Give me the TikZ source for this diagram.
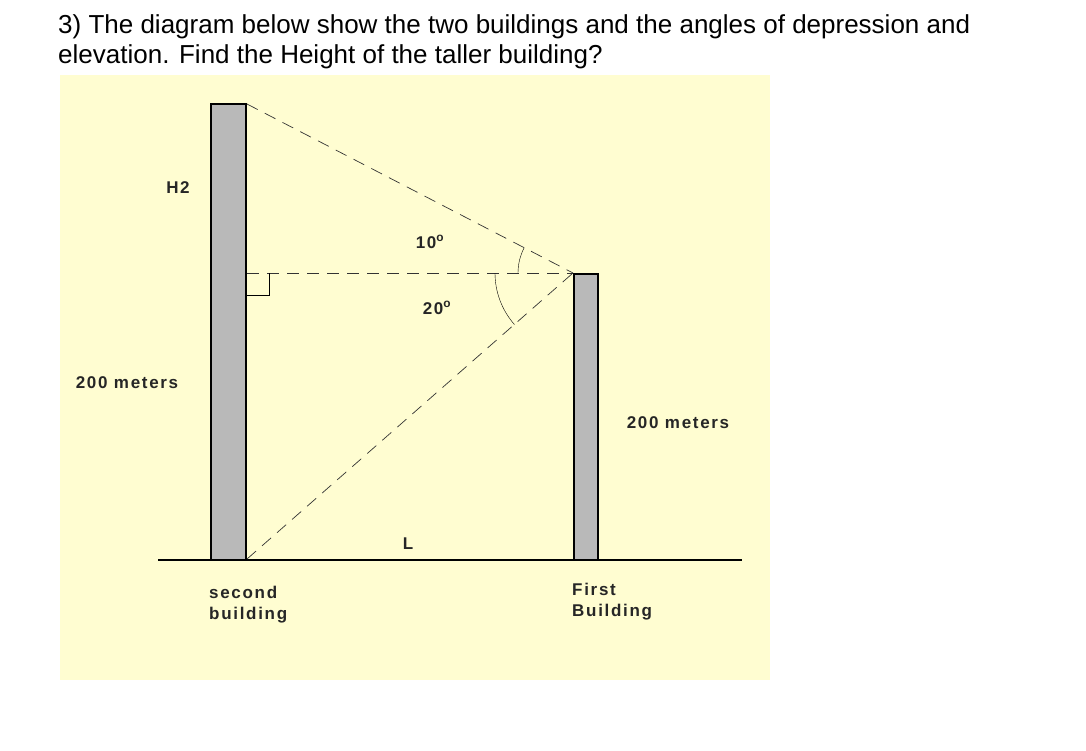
\documentclass[tikz,border=0pt]{standalone}
\usepackage{fontspec}
\setmainfont{Liberation Sans}
\begin{document}
\begin{tikzpicture}[x=1pt,y=-1pt,
  bld/.style={draw=black,line width=2pt,fill=gray!55},
  dsh/.style={draw=black!80,dash pattern=on 12pt off 8pt,line width=0.7pt},
  lbl/.style={font=\fontsize{17}{21}\selectfont\bfseries\addfontfeature{LetterSpace=10},text=black!85,align=left,inner sep=0pt}]
\useasboundingbox (0,0) rectangle (1086,750);
\fill[white] (0,0) rectangle (1086,750);
\fill[yellow!18] (60,75) rectangle (770,680);
\node[anchor=north west,align=left,inner sep=0pt,font=\fontsize{26}{30}\selectfont] (title) at (58,14)
 {3) The diagram below show the two buildings and the angles of depression and\\elevation. Find the Height of the taller building?};
\draw[bld] (211,104) rectangle (246,560);
\draw[bld] (574,274) rectangle (598,560);
\coordinate (A) at (247,104);
\coordinate (B) at (573,273);
\coordinate (C) at (247,273);
\coordinate (D) at (247,559);
\draw[line width=1.5pt] (158,560) -- (742,560);
\draw[dsh] (A) -- (B);
\draw[dsh] (C) -- (B);
\draw[dsh] (D) -- (B);
\draw[thin] (247,295) -- (269,295) -- (269,273);
\draw[thin] ([shift={(180:55)}]B) arc (180:207.5:55);
\draw[thin] ([shift={(180:78)}]B) arc (180:138.6:78);
\node[lbl] (h2) at (178,188) {H2};
\node[lbl] (a10) at (430,242) {10$^{\mathbf o}$};
\node[lbl] (a20) at (437,308) {20$^{\mathbf o}$};
\node[lbl] (m1) at (127,383) {200 meters};
\node[lbl] (m2) at (678,423) {200 meters};
\node[lbl] (L) at (408,544) {L};
\node[lbl,anchor=west] (sb) at (209,605) {second\\building};
\node[lbl,anchor=west] (fb) at (572,602) {First\\Building};
\end{tikzpicture}
\end{document}
